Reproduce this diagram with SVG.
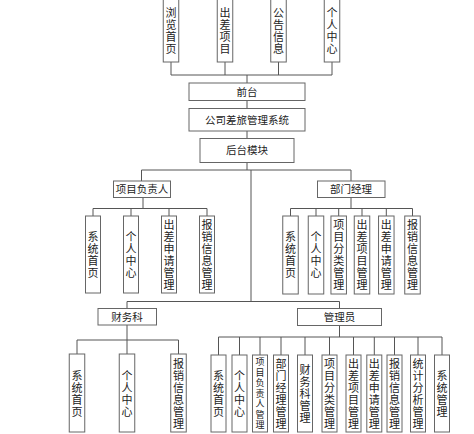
<svg xmlns="http://www.w3.org/2000/svg" width="474" height="434" viewBox="0 0 474 434">
<style>
rect{fill:#fff;stroke:#666;stroke-width:1}
.c line{stroke:#555;stroke-width:1}
text{font-family:"Noto Sans CJK SC","Noto Sans",sans-serif;fill:#222;text-anchor:middle}
.h{font-size:10.5px}
.v{font-size:11px;writing-mode:vertical-rl;letter-spacing:1px}
.s{font-size:9px;writing-mode:vertical-rl;letter-spacing:1.5px}
</style>
<rect x="0" y="0" width="474" height="434" style="stroke:none"/>
<g class="c" id="connectors">
<line x1="171" y1="62" x2="171" y2="75"/><line x1="225" y1="62" x2="225" y2="75"/><line x1="278.5" y1="62" x2="278.5" y2="75"/><line x1="332" y1="62" x2="332" y2="75"/>
<line x1="171" y1="75" x2="332" y2="75"/><line x1="247" y1="75" x2="247" y2="83"/>
<line x1="247" y1="100.5" x2="247" y2="108.5"/><line x1="247" y1="131" x2="247" y2="138.5"/><line x1="247" y1="162.5" x2="247" y2="170"/>
<line x1="141.5" y1="170" x2="351" y2="170"/><line x1="141.5" y1="170" x2="141.5" y2="181"/><line x1="351" y1="170" x2="351" y2="181"/>
<line x1="251" y1="170" x2="251" y2="301.5"/><line x1="127" y1="301.5" x2="339.5" y2="301.5"/>
<line x1="127" y1="301.5" x2="127" y2="308.5"/><line x1="339.5" y1="301.5" x2="339.5" y2="308.5"/>
<line x1="143" y1="197.5" x2="143" y2="208.5"/><line x1="93" y1="208.5" x2="207" y2="208.5"/>
<line x1="93" y1="208.5" x2="93" y2="216"/><line x1="131" y1="208.5" x2="131" y2="216"/><line x1="169" y1="208.5" x2="169" y2="216"/><line x1="207" y1="208.5" x2="207" y2="216"/>
<line x1="351" y1="197.5" x2="351" y2="208.5"/><line x1="290.5" y1="208.5" x2="412.5" y2="208.5"/>
<line x1="290.5" y1="208.5" x2="290.5" y2="216"/><line x1="316" y1="208.5" x2="316" y2="216"/><line x1="338.7" y1="208.5" x2="338.7" y2="216"/><line x1="362" y1="208.5" x2="362" y2="216"/><line x1="386.3" y1="208.5" x2="386.3" y2="216"/><line x1="412.5" y1="208.5" x2="412.5" y2="216"/>
<line x1="127" y1="325" x2="127" y2="340"/><line x1="77" y1="340" x2="178.5" y2="340"/>
<line x1="77" y1="340" x2="77" y2="354"/><line x1="127" y1="340" x2="127" y2="354"/><line x1="178.5" y1="340" x2="178.5" y2="354"/>
<line x1="339.5" y1="325.5" x2="339.5" y2="337"/><line x1="218.5" y1="337" x2="442" y2="337"/>
<line x1="218.5" y1="337" x2="218.5" y2="355"/><line x1="239.5" y1="337" x2="239.5" y2="355"/><line x1="260" y1="337" x2="260" y2="355"/><line x1="281" y1="337" x2="281" y2="355"/><line x1="305" y1="337" x2="305" y2="355"/><line x1="329.5" y1="337" x2="329.5" y2="355"/><line x1="353.5" y1="337" x2="353.5" y2="355"/><line x1="374.3" y1="337" x2="374.3" y2="355"/><line x1="394.5" y1="337" x2="394.5" y2="355"/><line x1="418" y1="337" x2="418" y2="355"/><line x1="442" y1="337" x2="442" y2="355"/>
</g>
<g id="n-llsy"><rect x="163.25" y="-2" width="15.5" height="64"/><text class="v" x="171" y="31">浏览首页</text></g>
<g id="n-ccxm"><rect x="217.25" y="-2" width="15.5" height="64"/><text class="v" x="225" y="31">出差项目</text></g>
<g id="n-ggxx"><rect x="270.75" y="-2" width="15.5" height="64"/><text class="v" x="278.5" y="31">公告信息</text></g>
<g id="n-grzx"><rect x="324.25" y="-2" width="15.5" height="64"/><text class="v" x="332" y="31">个人中心</text></g>
<g id="n-qt"><rect x="189" y="83" width="116" height="17.5"/><text class="h" x="247" y="95.5">前台</text></g>
<g id="n-xt"><rect x="189" y="108.5" width="116" height="22.5"/><text class="h" x="247" y="123.5">公司差旅管理系统</text></g>
<g id="n-ht"><rect x="200" y="138.5" width="94" height="24"/><text class="h" x="247" y="154">后台模块</text></g>
<g id="n-xmfzr"><rect x="113.5" y="181" width="57" height="16.5"/><text class="h" x="142" y="193">项目负责人</text></g>
<g id="n-bmjl"><rect x="317.5" y="181" width="67.5" height="16.5"/><text class="h" x="351" y="193">部门经理</text></g>
<g id="n-cwk"><rect x="98" y="308.5" width="58.5" height="16.5"/><text class="h" x="127" y="320.5">财务科</text></g>
<g id="n-gly"><rect x="297.5" y="308.5" width="84" height="17"/><text class="h" x="339.5" y="320.5">管理员</text></g>

<g id="a1"><rect x="85.5" y="216" width="15" height="77"/><text class="v" x="93" y="255">系统首页</text></g>
<g id="a2"><rect x="123.5" y="216" width="15" height="77"/><text class="v" x="131" y="255">个人中心</text></g>
<g id="a3"><rect x="161.5" y="216" width="15" height="77"/><text class="v" x="169" y="255">出差申请管理</text></g>
<g id="a4"><rect x="199.5" y="216" width="15" height="77"/><text class="v" x="207" y="255">报销信息管理</text></g>

<g id="b1"><rect x="282.75" y="216" width="15.5" height="78"/><text class="v" x="290.5" y="255">系统首页</text></g>
<g id="b2"><rect x="308.25" y="216" width="15.5" height="78"/><text class="v" x="316" y="255">个人中心</text></g>
<g id="b3"><rect x="330.95" y="216" width="15.5" height="78"/><text class="v" x="338.7" y="255">项目分类管理</text></g>
<g id="b4"><rect x="354.25" y="216" width="15.5" height="78"/><text class="v" x="362" y="255">出差项目管理</text></g>
<g id="b5"><rect x="378.55" y="216" width="15.5" height="78"/><text class="v" x="386.3" y="255">出差申请管理</text></g>
<g id="b6"><rect x="404.75" y="216" width="15.5" height="78"/><text class="v" x="412.5" y="255">报销信息管理</text></g>

<g id="c1"><rect x="69.25" y="354" width="15.5" height="78"/><text class="v" x="77" y="394">系统首页</text></g>
<g id="c2"><rect x="119.25" y="354" width="15.5" height="78"/><text class="v" x="127" y="394">个人中心</text></g>
<g id="c3"><rect x="170.75" y="354" width="15.5" height="78"/><text class="v" x="178.5" y="394">报销信息管理</text></g>

<g id="d1"><rect x="211" y="355" width="15" height="77"/><text class="v" x="218.5" y="394">系统首页</text></g>
<g id="d2"><rect x="232" y="355" width="15" height="77"/><text class="v" x="239.5" y="394">个人中心</text></g>
<g id="d3"><rect x="252.5" y="355" width="15" height="77"/><text class="s" x="260" y="394">项目负责人管理</text></g>
<g id="d4"><rect x="273.5" y="355" width="15" height="77"/><text class="v" x="281" y="394">部门经理管理</text></g>
<g id="d5"><rect x="297.5" y="355" width="15" height="77"/><text class="v" x="305" y="394">财务科管理</text></g>
<g id="d6"><rect x="322" y="355" width="15" height="77"/><text class="v" x="329.5" y="394">项目分类管理</text></g>
<g id="d7"><rect x="346" y="355" width="15" height="77"/><text class="v" x="353.5" y="394">出差项目管理</text></g>
<g id="d8"><rect x="366.8" y="355" width="15" height="77"/><text class="v" x="374.3" y="394">出差申请管理</text></g>
<g id="d9"><rect x="387" y="355" width="15" height="77"/><text class="v" x="394.5" y="394">报销信息管理</text></g>
<g id="d10"><rect x="410.5" y="355" width="15" height="77"/><text class="v" x="418" y="394">统计分析管理</text></g>
<g id="d11"><rect x="434.5" y="355" width="15" height="77"/><text class="v" x="442" y="394">系统管理</text></g>
</svg>
